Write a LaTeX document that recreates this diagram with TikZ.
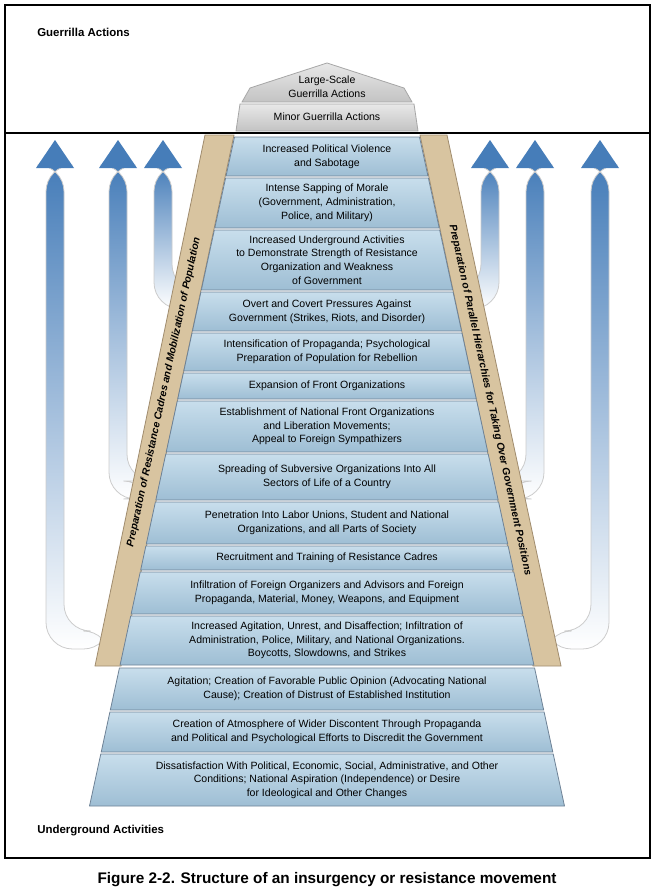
\documentclass[tikz,border=0pt]{standalone}
\usepackage{fontspec}
\setmainfont{Liberation Sans}
\begin{document}
\begin{tikzpicture}[x=0.75pt,y=-0.75pt,
  row/.style={top color=rowtop,bottom color=rowbot,draw=rowedge,line width=0.6pt},
  rowtext/.style={align=center,font=\fontsize{7.9}{10.3}\selectfont,inner sep=0pt},
  tan/.style={fill=tanc,draw=tanedge,line width=0.6pt},
  capstone/.style={top color=capt,bottom color=capb,draw=gray!70,line width=0.6pt},
  shaft/.style={top color=arrb,bottom color=white,draw=gray!40,line width=0.6pt,rounded corners=20pt},
  head/.style={fill=arrb,draw=none},
  tantext/.style={font=\fontsize{7.7}{9}\selectfont\bfseries\itshape,inner sep=0pt}]
\definecolor{rowtop}{RGB}{200,222,236}
\definecolor{rowbot}{RGB}{158,190,212}
\definecolor{rowedge}{RGB}{110,130,150}
\definecolor{tanc}{RGB}{216,196,160}
\definecolor{tanedge}{RGB}{160,140,110}
\definecolor{capt}{RGB}{232,232,232}
\definecolor{capb}{RGB}{195,195,195}
\definecolor{arrb}{RGB}{70,125,185}
\useasboundingbox (0,0) rectangle (653,892);
\fill[white] (0,0) rectangle (653,892);
% arrows
\foreach \cx/\b/\xt/\s in {55/640/110/1, 118/490/150/1, 163/300/200/1, 600/640/545/-1, 535/490/505/-1, 490/300/455/-1}{
  \path[shaft] (\cx-9*\s,165) -- (\cx-9*\s,\b+9) -- (\xt,\b+9) -- (\xt,\b-9) -- (\cx+9*\s,\b-9) -- (\cx+9*\s,165) -- cycle;
  \path[head] (\cx-19,168) -- (\cx,140) -- (\cx+19,168) -- cycle;
}
% tan strips
\path[tan] (205,135) -- (234,135) -- (121,666) -- (95,666) -- cycle;
\path[tan] (420,135) -- (447,135) -- (561,666) -- (533,666) -- cycle;
\node[tantext,rotate=77.8] (lt) at (164,392) {Preparation of Resistance Cadres and Mobilization of Population};
\node[tantext,rotate=-77.8] (rt) at (490,400) {Preparation of Parallel Hierarchies for Taking Over Government Positions};
% cap
\path[capstone] (250,88) -- (327,63) -- (404,88) -- (412,102) -- (242,102) -- cycle;
\node[rowtext] (c1) at (327,87) {Large-Scale\\Guerrilla Actions};
\path[capstone] (240,104) -- (414,104) -- (418,131) -- (236,131) -- cycle;
\node[rowtext] (c2) at (327,117) {Minor Guerrilla Actions};
% rows
\foreach \a/\b/\t [count=\i] in {
 137/176/{Increased Political Violence\\and Sabotage},
 178/228/{Intense Sapping of Morale\\(Government, Administration,\\Police, and Military)},
 230/290/{Increased Underground Activities\\to Demonstrate Strength of Resistance\\Organization and Weakness\\of Government},
 292/331/{Overt and Covert Pressures Against\\Government (Strikes, Riots, and Disorder)},
 333/371/{Intensification of Propaganda; Psychological\\Preparation of Population for Rebellion},
 373/399/{Expansion of Front Organizations},
 401/452/{Establishment of National Front Organizations\\and Liberation Movements;\\Appeal to Foreign Sympathizers},
 454/500/{Spreading of Subversive Organizations Into All\\Sectors of Life of a Country},
 502/544/{Penetration Into Labor Unions, Student and National\\Organizations, and all Parts of Society},
 546/570/{Recruitment and Training of Resistance Cadres},
 572/614/{Infiltration of Foreign Organizers and Advisors and Foreign\\Propaganda, Material, Money, Weapons, and Equipment},
 616/665/{Increased Agitation, Unrest, and Disaffection; Infiltration of\\Administration, Police, Military, and National Organizations.\\Boycotts, Slowdowns, and Strikes},
 668/710/{Agitation; Creation of Favorable Public Opinion (Advocating National\\Cause); Creation of Distrust of Established Institution},
 712/752/{Creation of Atmosphere of Wider Discontent Through Propaganda\\and Political and Psychological Efforts to Discredit the Government},
 754/806/{Dissatisfaction With Political, Economic, Social, Administrative, and Other\\Conditions; National Aspiration (Independence) or Desire\\for Ideological and Other Changes}}{
  \pgfmathsetmacro\wa{92.5+0.2167*(\a-137)}
  \pgfmathsetmacro\wb{92.5+0.2167*(\b-137)}
  \path[row] (327-\wa,\a) -- (327+\wa,\a) -- (327+\wb,\b) -- (327-\wb,\b) -- cycle;
  \node[rowtext] (r\i) at (327,{(\a+\b)/2}) {\t};
}
% frame
\draw[line width=1.6pt] (5,5) rectangle (650,858);
\draw[line width=2.2pt] (5,133) -- (650,133);
\node[anchor=west,font=\fontsize{8.6}{10}\selectfont\bfseries,inner sep=0pt] (ga) at (37,32) {Guerrilla Actions};
\node[anchor=west,font=\fontsize{8.6}{10}\selectfont\bfseries,inner sep=0pt] (ua) at (37,831) {Underground Activities};
\node[font=\fontsize{11.5}{13}\selectfont\bfseries,inner sep=0pt] (fig) at (327,880) {Figure 2-2. Structure of an insurgency or resistance movement};
\end{tikzpicture}
\end{document}
